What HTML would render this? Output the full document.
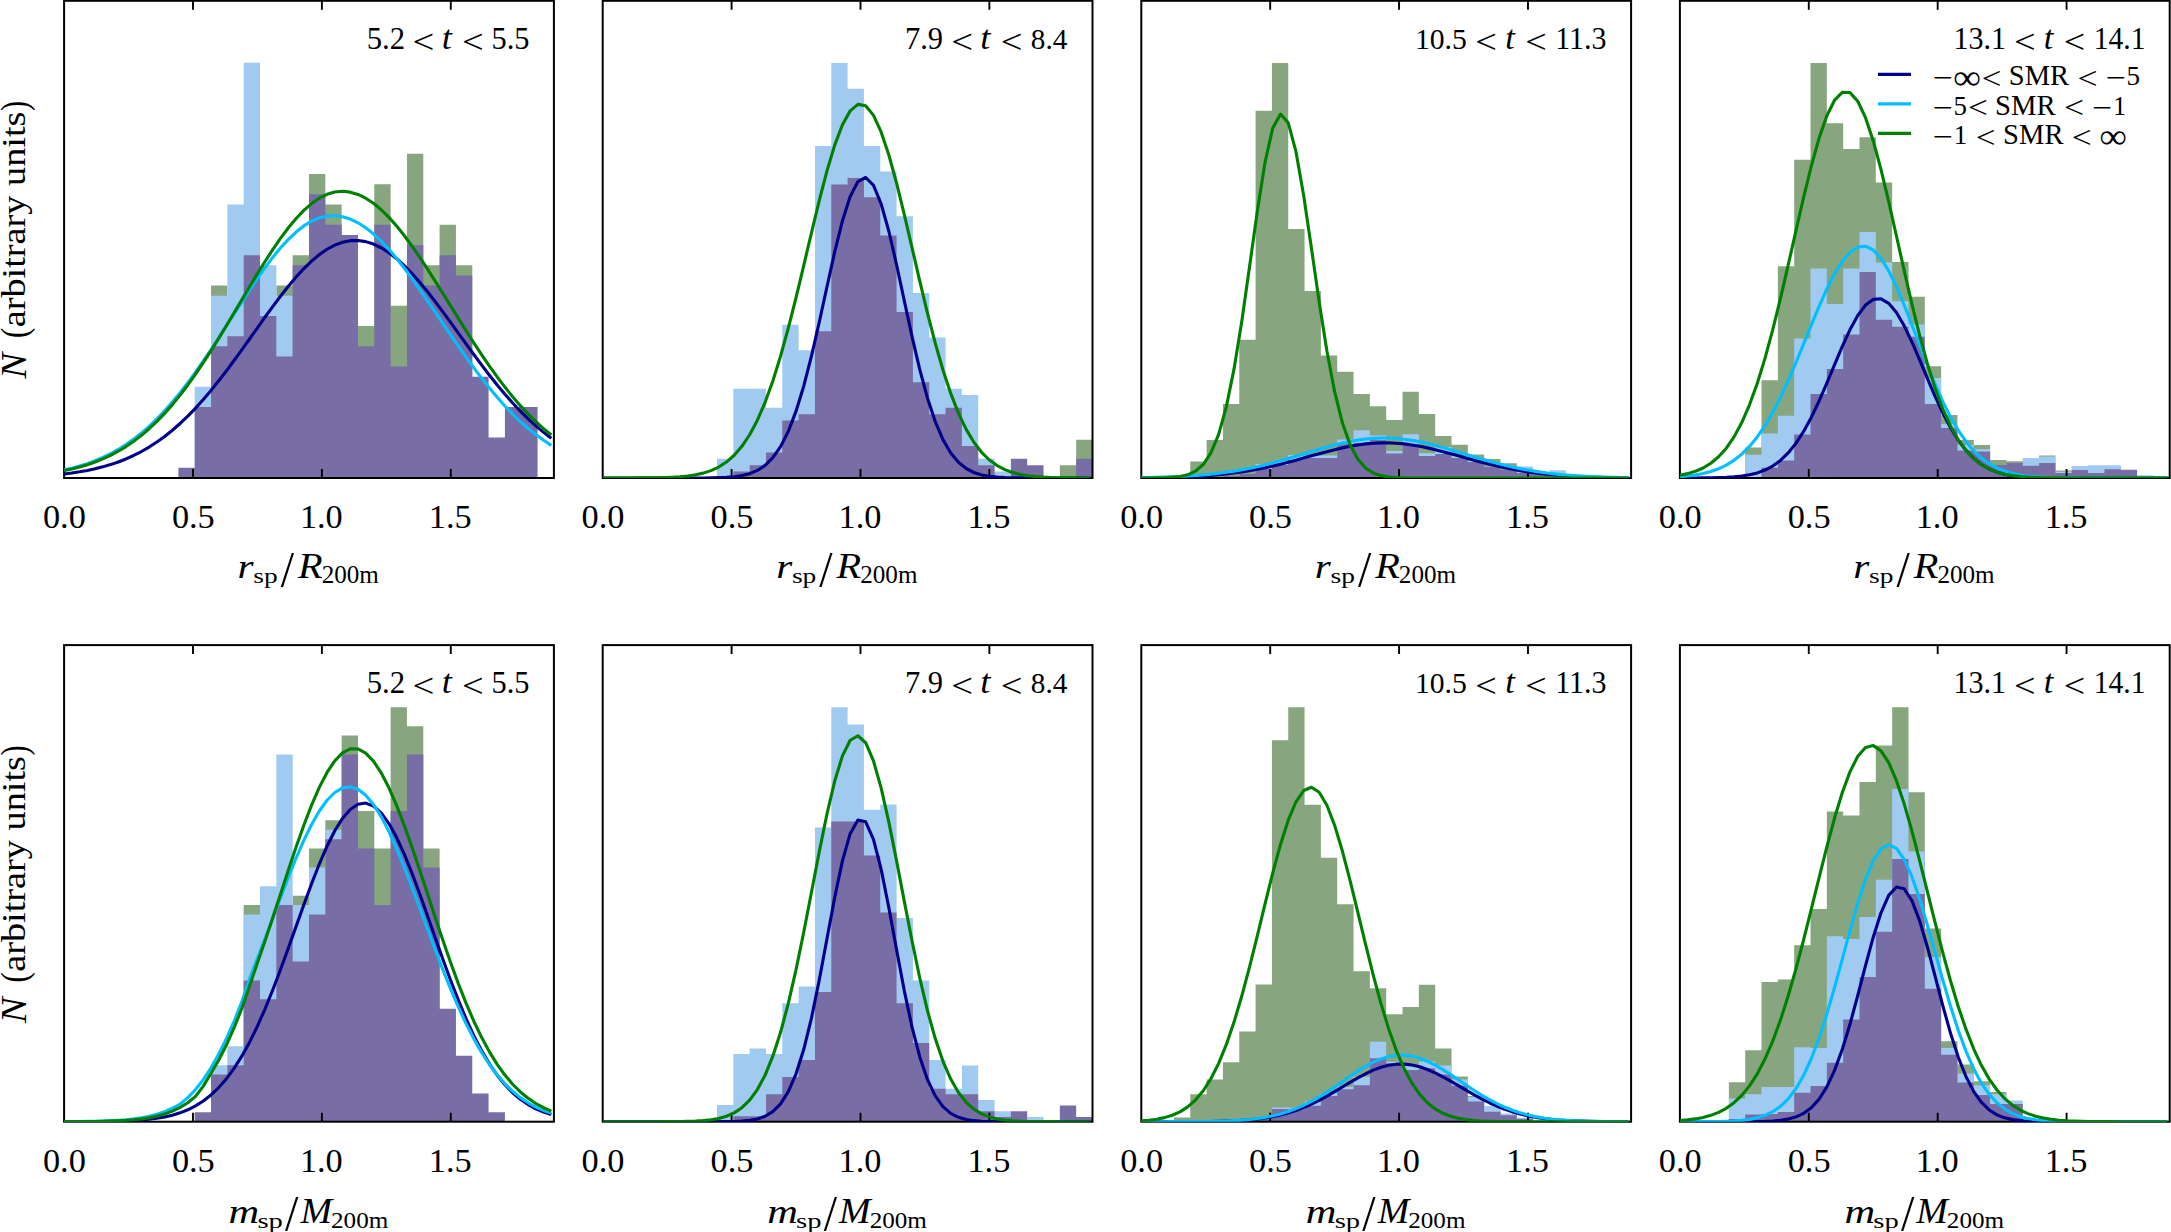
<!DOCTYPE html>
<html><head><meta charset="utf-8"><title>Splashback radius and mass distributions</title>
<style>html,body{margin:0;padding:0;background:#fff;overflow:hidden}svg{display:block}text{font-family:"Liberation Serif","DejaVu Serif",serif;fill:#000}.i{font-style:italic}</style></head><body>
<svg width="2171" height="1232" viewBox="0 0 2171 1232">
<rect width="2171" height="1232" fill="#fff"/>
<defs>
<clipPath id="c00"><rect x="64.10" y="0.80" width="489.80" height="477.20"/></clipPath>
<clipPath id="c01"><rect x="602.70" y="0.80" width="489.80" height="477.20"/></clipPath>
<clipPath id="c02"><rect x="1141.30" y="0.80" width="489.80" height="477.20"/></clipPath>
<clipPath id="c03"><rect x="1679.90" y="0.80" width="489.80" height="477.20"/></clipPath>
<clipPath id="c10"><rect x="64.10" y="645.10" width="489.80" height="476.60"/></clipPath>
<clipPath id="c11"><rect x="602.70" y="645.10" width="489.80" height="476.60"/></clipPath>
<clipPath id="c12"><rect x="1141.30" y="645.10" width="489.80" height="476.60"/></clipPath>
<clipPath id="c13"><rect x="1679.90" y="645.10" width="489.80" height="476.60"/></clipPath>
</defs>
<g clip-path="url(#c00)">
<path d="M64.10,478.00L64.10,478.00L80.43,478.00L80.43,478.00L96.75,478.00L96.75,478.00L113.08,478.00L113.08,478.00L129.41,478.00L129.41,478.00L145.73,478.00L145.73,478.00L162.06,478.00L162.06,478.00L178.39,478.00L178.39,478.00L194.71,478.00L194.71,478.00L211.04,478.00L211.04,285.53L227.37,285.53L227.37,478.00L243.69,478.00L243.69,478.00L260.02,478.00L260.02,478.00L276.35,478.00L276.35,285.53L292.67,285.53L292.67,255.14L309.00,255.14L309.00,174.10L325.33,174.10L325.33,204.49L341.65,204.49L341.65,478.00L357.98,478.00L357.98,326.05L374.31,326.05L374.31,184.23L390.63,184.23L390.63,305.79L406.96,305.79L406.96,153.84L423.29,153.84L423.29,265.27L439.61,265.27L439.61,224.75L455.94,224.75L455.94,265.27L472.27,265.27L472.27,478.00L488.59,478.00L488.59,478.00L504.92,478.00L504.92,478.00L521.25,478.00L521.25,478.00L537.57,478.00L537.57,478.00L553.90,478.00L553.90,478.00Z" fill="#87a67f"/>
<path d="M64.10,478.00L64.10,478.00L80.43,478.00L80.43,478.00L96.75,478.00L96.75,478.00L113.08,478.00L113.08,478.00L129.41,478.00L129.41,478.00L145.73,478.00L145.73,478.00L162.06,478.00L162.06,478.00L178.39,478.00L178.39,478.00L194.71,478.00L194.71,386.83L211.04,386.83L211.04,295.66L227.37,295.66L227.37,204.49L243.69,204.49L243.69,62.67L260.02,62.67L260.02,265.27L276.35,265.27L276.35,295.66L292.67,295.66L292.67,478.00L309.00,478.00L309.00,478.00L325.33,478.00L325.33,478.00L341.65,478.00L341.65,478.00L357.98,478.00L357.98,478.00L374.31,478.00L374.31,478.00L390.63,478.00L390.63,478.00L406.96,478.00L406.96,478.00L423.29,478.00L423.29,478.00L439.61,478.00L439.61,478.00L455.94,478.00L455.94,478.00L472.27,478.00L472.27,478.00L488.59,478.00L488.59,478.00L504.92,478.00L504.92,478.00L521.25,478.00L521.25,478.00L537.57,478.00L537.57,478.00L553.90,478.00L553.90,478.00Z" fill="#a1caf1"/>
<path d="M64.10,478.00L64.10,478.00L80.43,478.00L80.43,478.00L96.75,478.00L96.75,478.00L113.08,478.00L113.08,478.00L129.41,478.00L129.41,478.00L145.73,478.00L145.73,478.00L162.06,478.00L162.06,478.00L178.39,478.00L178.39,467.87L194.71,467.87L194.71,407.09L211.04,407.09L211.04,346.31L227.37,346.31L227.37,336.18L243.69,336.18L243.69,255.14L260.02,255.14L260.02,315.92L276.35,315.92L276.35,356.44L292.67,356.44L292.67,265.27L309.00,265.27L309.00,194.36L325.33,194.36L325.33,224.75L341.65,224.75L341.65,234.88L357.98,234.88L357.98,346.31L374.31,346.31L374.31,224.75L390.63,224.75L390.63,366.57L406.96,366.57L406.96,245.01L423.29,245.01L423.29,285.53L439.61,285.53L439.61,255.14L455.94,255.14L455.94,275.40L472.27,275.40L472.27,376.70L488.59,376.70L488.59,437.48L504.92,437.48L504.92,407.09L521.25,407.09L521.25,407.09L537.57,407.09L537.57,478.00L553.90,478.00L553.90,478.00Z" fill="#786da4"/>
</g>
<path d="M192.99,478.00v-9.0M192.99,0.80v9.0" stroke="#000" stroke-width="1.9"/>
<path d="M321.89,478.00v-9.0M321.89,0.80v9.0" stroke="#000" stroke-width="1.9"/>
<path d="M450.78,478.00v-9.0M450.78,0.80v9.0" stroke="#000" stroke-width="1.9"/>
<rect x="64.10" y="0.80" width="489.80" height="477.20" fill="none" stroke="#000" stroke-width="2.0"/>
<g clip-path="url(#c00)">
<path d="M64.10,473.94L71.83,472.98L79.57,471.82L87.30,470.44L95.03,468.80L102.77,466.87L110.50,464.61L118.24,461.98L125.97,458.95L133.70,455.48L141.44,451.53L149.17,447.06L156.90,442.05L164.64,436.46L172.37,430.28L180.11,423.49L187.84,416.10L195.57,408.10L203.31,399.53L211.04,390.40L218.77,380.78L226.51,370.72L234.24,360.29L241.97,349.60L249.71,338.73L257.44,327.81L265.18,316.96L272.91,306.32L280.64,296.02L288.38,286.21L296.11,277.04L303.84,268.62L311.58,261.11L319.31,254.62L327.05,249.25L334.78,245.09L342.51,242.21L350.25,240.67L357.98,240.49L365.71,241.63L373.45,244.07L381.18,247.77L388.91,252.66L396.65,258.68L404.38,265.71L412.12,273.66L419.85,282.40L427.58,291.81L435.32,301.75L443.05,312.08L450.78,322.67L458.52,333.39L466.25,344.11L473.99,354.73L481.72,365.14L489.45,375.24L497.19,384.95L504.92,394.21L512.65,402.97L520.39,411.19L528.12,418.84L535.85,425.90L543.59,432.37L551.32,438.26" fill="none" stroke="#00008b" stroke-width="3.1" stroke-linejoin="round"/>
<path d="M64.10,469.91L71.83,468.15L79.57,466.06L87.30,463.62L95.03,460.79L102.77,457.51L110.50,453.74L118.24,449.45L125.97,444.60L133.70,439.14L141.44,433.05L149.17,426.31L156.90,418.89L164.64,410.81L172.37,402.05L180.11,392.65L187.84,382.63L195.57,372.06L203.31,360.99L211.04,349.50L218.77,337.70L226.51,325.69L234.24,313.61L241.97,301.59L249.71,289.78L257.44,278.34L265.18,267.41L272.91,257.17L280.64,247.76L288.38,239.33L296.11,232.02L303.84,225.94L311.58,221.19L319.31,217.86L327.05,216.01L334.78,215.65L342.51,216.70L350.25,219.09L357.98,222.80L365.71,227.77L373.45,233.91L381.18,241.14L388.91,249.36L396.65,258.43L404.38,268.25L412.12,278.66L419.85,289.55L427.58,300.77L435.32,312.18L443.05,323.67L450.78,335.11L458.52,346.39L466.25,357.41L473.99,368.08L481.72,378.33L489.45,388.10L497.19,397.33L504.92,405.98L512.65,414.05L520.39,421.50L528.12,428.35L535.85,434.59L543.59,440.25L551.32,445.34" fill="none" stroke="#00bfff" stroke-width="3.1" stroke-linejoin="round"/>
<path d="M64.10,470.60L71.83,468.96L79.57,467.01L87.30,464.72L95.03,462.04L102.77,458.93L110.50,455.34L118.24,451.23L125.97,446.55L133.70,441.26L141.44,435.32L149.17,428.71L156.90,421.40L164.64,413.36L172.37,404.60L180.11,395.13L187.84,384.96L195.57,374.13L203.31,362.70L211.04,350.73L218.77,338.31L226.51,325.55L234.24,312.56L241.97,299.48L249.71,286.46L257.44,273.64L265.18,261.20L272.91,249.30L280.64,238.11L288.38,227.79L296.11,218.51L303.84,210.40L311.58,203.59L319.31,198.20L327.05,194.32L334.78,192.01L342.51,191.30L350.25,192.14L357.98,194.45L365.71,198.19L373.45,203.31L381.18,209.73L388.91,217.35L396.65,226.06L404.38,235.73L412.12,246.24L419.85,257.44L427.58,269.17L435.32,281.31L443.05,293.70L450.78,306.19L458.52,318.67L466.25,331.00L473.99,343.08L481.72,354.81L489.45,366.09L497.19,376.87L504.92,387.08L512.65,396.69L520.39,405.65L528.12,413.96L535.85,421.60L543.59,428.59L551.32,434.94" fill="none" stroke="#008000" stroke-width="3.1" stroke-linejoin="round"/>
</g>
<text x="42.96" y="528.40" font-size="34.3">0.0</text>
<text x="171.90" y="528.40" font-size="34.3">0.5</text>
<text x="299.89" y="528.40" font-size="34.3">1.0</text>
<text x="428.83" y="528.40" font-size="34.3">1.5</text>
<text font-size="100" transform="matrix(0.3068,0,0,0.3055,366.64,49.14)" xml:space="preserve">5.2</text>
<text font-size="100" transform="matrix(0.3871,0,0,0.3440,412.56,52.80)" xml:space="preserve">&lt;</text>
<text class="i" font-size="100" transform="matrix(0.3644,0,0,0.3339,441.76,49.17)" xml:space="preserve">t</text>
<text font-size="100" transform="matrix(0.3849,0,0,0.3440,462.08,52.80)" xml:space="preserve">&lt;</text>
<text font-size="100" transform="matrix(0.3037,0,0,0.3090,491.55,49.14)" xml:space="preserve">5.5</text>
<text class="i" font-size="100" transform="matrix(0.4113,0,0,0.3340,237.55,578.10)" xml:space="preserve">r</text>
<text font-size="100" transform="matrix(0.2741,0,0,0.2051,253.30,583.44)" xml:space="preserve">sp</text>
<text font-size="100" transform="matrix(0.4793,0,0,0.5134,280.70,585.99)" xml:space="preserve">/</text>
<text class="i" font-size="100" transform="matrix(0.4033,0,0,0.3679,298.00,578.20)" xml:space="preserve">R</text>
<text font-size="100" transform="matrix(0.2514,0,0,0.2415,321.63,583.46)" xml:space="preserve">200m</text>
<g clip-path="url(#c01)">
<path d="M602.70,478.00L602.70,478.00L619.03,478.00L619.03,478.00L635.35,478.00L635.35,478.00L651.68,478.00L651.68,478.00L668.01,478.00L668.01,478.00L684.33,478.00L684.33,478.00L700.66,478.00L700.66,478.00L716.99,478.00L716.99,478.00L733.31,478.00L733.31,478.00L749.64,478.00L749.64,478.00L765.97,478.00L765.97,478.00L782.29,478.00L782.29,478.00L798.62,478.00L798.62,478.00L814.95,478.00L814.95,478.00L831.27,478.00L831.27,478.00L847.60,478.00L847.60,478.00L863.93,478.00L863.93,478.00L880.25,478.00L880.25,478.00L896.58,478.00L896.58,478.00L912.91,478.00L912.91,478.00L929.23,478.00L929.23,478.00L945.56,478.00L945.56,478.00L961.89,478.00L961.89,478.00L978.21,478.00L978.21,478.00L994.54,478.00L994.54,478.00L1010.87,478.00L1010.87,478.00L1027.19,478.00L1027.19,478.00L1043.52,478.00L1043.52,478.00L1059.85,478.00L1059.85,465.23L1076.17,465.23L1076.17,439.70L1092.50,439.70L1092.50,478.00Z" fill="#87a67f"/>
<path d="M602.70,478.00L602.70,478.00L619.03,478.00L619.03,478.00L635.35,478.00L635.35,478.00L651.68,478.00L651.68,478.00L668.01,478.00L668.01,478.00L684.33,478.00L684.33,478.00L700.66,478.00L700.66,478.00L716.99,478.00L716.99,458.85L733.31,458.85L733.31,388.64L749.64,388.64L749.64,388.64L765.97,388.64L765.97,407.79L782.29,407.79L782.29,324.81L798.62,324.81L798.62,350.34L814.95,350.34L814.95,146.08L831.27,146.08L831.27,63.11L847.60,63.11L847.60,88.64L863.93,88.64L863.93,146.08L880.25,146.08L880.25,171.62L896.58,171.62L896.58,216.30L912.91,216.30L912.91,292.89L929.23,292.89L929.23,337.57L945.56,337.57L945.56,388.64L961.89,388.64L961.89,395.02L978.21,395.02L978.21,458.85L994.54,458.85L994.54,471.62L1010.87,471.62L1010.87,478.00L1027.19,478.00L1027.19,478.00L1043.52,478.00L1043.52,478.00L1059.85,478.00L1059.85,478.00L1076.17,478.00L1076.17,478.00L1092.50,478.00L1092.50,478.00Z" fill="#a1caf1"/>
<path d="M602.70,478.00L602.70,478.00L619.03,478.00L619.03,478.00L635.35,478.00L635.35,478.00L651.68,478.00L651.68,478.00L668.01,478.00L668.01,478.00L684.33,478.00L684.33,478.00L700.66,478.00L700.66,478.00L716.99,478.00L716.99,478.00L733.31,478.00L733.31,471.62L749.64,471.62L749.64,465.23L765.97,465.23L765.97,452.47L782.29,452.47L782.29,420.55L798.62,420.55L798.62,414.17L814.95,414.17L814.95,331.19L831.27,331.19L831.27,184.38L847.60,184.38L847.60,178.00L863.93,178.00L863.93,197.15L880.25,197.15L880.25,235.45L896.58,235.45L896.58,312.04L912.91,312.04L912.91,382.25L929.23,382.25L929.23,414.17L945.56,414.17L945.56,407.79L961.89,407.79L961.89,446.08L978.21,446.08L978.21,465.23L994.54,465.23L994.54,478.00L1010.87,478.00L1010.87,458.85L1027.19,458.85L1027.19,465.23L1043.52,465.23L1043.52,478.00L1059.85,478.00L1059.85,478.00L1076.17,478.00L1076.17,458.85L1092.50,458.85L1092.50,478.00Z" fill="#786da4"/>
</g>
<path d="M731.59,478.00v-9.0M731.59,0.80v9.0" stroke="#000" stroke-width="1.9"/>
<path d="M860.49,478.00v-9.0M860.49,0.80v9.0" stroke="#000" stroke-width="1.9"/>
<path d="M989.38,478.00v-9.0M989.38,0.80v9.0" stroke="#000" stroke-width="1.9"/>
<rect x="602.70" y="0.80" width="489.80" height="477.20" fill="none" stroke="#000" stroke-width="2.0"/>
<g clip-path="url(#c01)">
<path d="M602.70,478.00L610.43,478.00L618.17,478.00L625.90,478.00L633.63,478.00L641.37,478.00L649.10,478.00L656.84,478.00L664.57,478.00L672.30,478.00L680.04,477.99L687.77,477.99L695.50,477.97L703.24,477.93L710.97,477.84L718.71,477.67L726.44,477.33L734.17,476.71L741.91,475.58L749.64,473.63L757.37,470.43L765.11,465.36L772.84,457.70L780.57,446.62L788.31,431.33L796.04,411.18L803.78,385.94L811.51,355.94L819.24,322.25L826.98,286.73L834.71,251.96L842.44,220.90L850.18,196.59L857.91,181.56L865.65,177.48L873.38,185.12L881.11,203.75L888.85,231.27L896.58,264.73L904.31,300.88L912.05,336.67L919.78,369.65L927.51,398.19L935.25,421.52L942.98,439.60L950.72,452.91L958.45,462.25L966.18,468.50L973.92,472.50L981.65,474.94L989.38,476.36L997.12,477.16L1004.85,477.58L1012.59,477.80L1020.32,477.91L1028.05,477.96L1035.79,477.98L1043.52,477.99L1051.25,478.00L1058.99,478.00L1066.72,478.00L1074.45,478.00L1082.19,478.00L1089.92,478.00" fill="none" stroke="#00008b" stroke-width="3.1" stroke-linejoin="round"/>
<path d="M602.70,478.00L610.43,477.99L618.17,477.99L625.90,477.98L633.63,477.96L641.37,477.92L649.10,477.85L656.84,477.74L664.57,477.56L672.30,477.25L680.04,476.77L687.77,476.01L695.50,474.86L703.24,473.13L710.97,470.62L718.71,467.04L726.44,462.06L734.17,455.29L741.91,446.33L749.64,434.76L757.37,420.18L765.11,402.29L772.84,380.93L780.57,356.13L788.31,328.17L796.04,297.62L803.78,265.36L811.51,232.54L819.24,200.55L826.98,170.90L834.71,145.15L842.44,124.74L850.18,110.87L857.91,104.39L865.65,105.77L873.38,115.13L881.11,131.90L888.85,155.03L896.58,183.12L904.31,214.59L912.05,247.78L919.78,281.13L927.51,313.29L935.25,343.18L942.98,370.02L950.72,393.39L958.45,413.13L966.18,429.34L973.92,442.29L981.65,452.36L989.38,459.99L997.12,465.62L1004.85,469.67L1012.59,472.52L1020.32,474.47L1028.05,475.78L1035.79,476.63L1043.52,477.17L1051.25,477.51L1058.99,477.72L1066.72,477.84L1074.45,477.91L1082.19,477.95L1089.92,477.97" fill="none" stroke="#008000" stroke-width="3.1" stroke-linejoin="round"/>
</g>
<text x="581.56" y="528.40" font-size="34.3">0.0</text>
<text x="710.50" y="528.40" font-size="34.3">0.5</text>
<text x="838.49" y="528.40" font-size="34.3">1.0</text>
<text x="967.43" y="528.40" font-size="34.3">1.5</text>
<text font-size="100" transform="matrix(0.3048,0,0,0.3055,905.02,49.14)" xml:space="preserve">7.9</text>
<text font-size="100" transform="matrix(0.3871,0,0,0.3440,951.16,52.80)" xml:space="preserve">&lt;</text>
<text class="i" font-size="100" transform="matrix(0.3644,0,0,0.3339,980.36,49.17)" xml:space="preserve">t</text>
<text font-size="100" transform="matrix(0.3849,0,0,0.3440,1000.68,52.80)" xml:space="preserve">&lt;</text>
<text font-size="100" transform="matrix(0.2923,0,0,0.3044,1030.80,49.14)" xml:space="preserve">8.4</text>
<text class="i" font-size="100" transform="matrix(0.4113,0,0,0.3340,776.15,578.10)" xml:space="preserve">r</text>
<text font-size="100" transform="matrix(0.2741,0,0,0.2051,791.90,583.44)" xml:space="preserve">sp</text>
<text font-size="100" transform="matrix(0.4793,0,0,0.5134,819.30,585.99)" xml:space="preserve">/</text>
<text class="i" font-size="100" transform="matrix(0.4033,0,0,0.3679,836.60,578.20)" xml:space="preserve">R</text>
<text font-size="100" transform="matrix(0.2514,0,0,0.2415,860.23,583.46)" xml:space="preserve">200m</text>
<g clip-path="url(#c02)">
<path d="M1141.30,478.00L1141.30,478.00L1157.63,478.00L1157.63,478.00L1173.95,478.00L1173.95,478.00L1190.28,478.00L1190.28,461.40L1206.61,461.40L1206.61,440.00L1222.93,440.00L1222.93,404.00L1239.26,404.00L1239.26,339.70L1255.59,339.70L1255.59,110.80L1271.91,110.80L1271.91,63.10L1288.24,63.10L1288.24,229.00L1304.57,229.00L1304.57,290.90L1320.89,290.90L1320.89,355.50L1337.22,355.50L1337.22,371.70L1353.55,371.70L1353.55,394.10L1369.87,394.10L1369.87,406.30L1386.20,406.30L1386.20,420.10L1402.53,420.10L1402.53,391.70L1418.85,391.70L1418.85,413.90L1435.18,413.90L1435.18,435.90L1451.51,435.90L1451.51,444.70L1467.83,444.70L1467.83,454.50L1484.16,454.50L1484.16,459.00L1500.49,459.00L1500.49,463.30L1516.81,463.30L1516.81,469.00L1533.14,469.00L1533.14,473.00L1549.47,473.00L1549.47,475.00L1565.79,475.00L1565.79,478.00L1582.12,478.00L1582.12,478.00L1598.45,478.00L1598.45,478.00L1614.77,478.00L1614.77,478.00L1631.10,478.00L1631.10,478.00Z" fill="#87a67f"/>
<path d="M1141.30,478.00L1141.30,478.00L1157.63,478.00L1157.63,478.00L1173.95,478.00L1173.95,478.00L1190.28,478.00L1190.28,478.00L1206.61,478.00L1206.61,478.00L1222.93,478.00L1222.93,477.00L1239.26,477.00L1239.26,474.00L1255.59,474.00L1255.59,464.10L1271.91,464.10L1271.91,461.00L1288.24,461.00L1288.24,455.10L1304.57,455.10L1304.57,456.00L1320.89,456.00L1320.89,455.40L1337.22,455.40L1337.22,439.60L1353.55,439.60L1353.55,430.30L1369.87,430.30L1369.87,435.60L1386.20,435.60L1386.20,451.10L1402.53,451.10L1402.53,434.20L1418.85,434.20L1418.85,453.20L1435.18,453.20L1435.18,447.20L1451.51,447.20L1451.51,456.00L1467.83,456.00L1467.83,461.00L1484.16,461.00L1484.16,466.00L1500.49,466.00L1500.49,469.00L1516.81,469.00L1516.81,466.40L1533.14,466.40L1533.14,473.00L1549.47,473.00L1549.47,470.30L1565.79,470.30L1565.79,475.00L1582.12,475.00L1582.12,478.00L1598.45,478.00L1598.45,478.00L1614.77,478.00L1614.77,478.00L1631.10,478.00L1631.10,478.00Z" fill="#a1caf1"/>
<path d="M1141.30,478.00L1141.30,478.00L1157.63,478.00L1157.63,478.00L1173.95,478.00L1173.95,478.00L1190.28,478.00L1190.28,478.00L1206.61,478.00L1206.61,477.00L1222.93,477.00L1222.93,476.00L1239.26,476.00L1239.26,474.00L1255.59,474.00L1255.59,469.00L1271.91,469.00L1271.91,465.00L1288.24,465.00L1288.24,460.00L1304.57,460.00L1304.57,458.00L1320.89,458.00L1320.89,457.90L1337.22,457.90L1337.22,444.00L1353.55,444.00L1353.55,443.00L1369.87,443.00L1369.87,440.00L1386.20,440.00L1386.20,453.60L1402.53,453.60L1402.53,444.00L1418.85,444.00L1418.85,455.90L1435.18,455.90L1435.18,454.00L1451.51,454.00L1451.51,458.00L1467.83,458.00L1467.83,462.00L1484.16,462.00L1484.16,466.50L1500.49,466.50L1500.49,469.50L1516.81,469.50L1516.81,473.00L1533.14,473.00L1533.14,474.00L1549.47,474.00L1549.47,476.00L1565.79,476.00L1565.79,478.00L1582.12,478.00L1582.12,478.00L1598.45,478.00L1598.45,478.00L1614.77,478.00L1614.77,478.00L1631.10,478.00L1631.10,478.00Z" fill="#786da4"/>
</g>
<path d="M1270.19,478.00v-9.0M1270.19,0.80v9.0" stroke="#000" stroke-width="1.9"/>
<path d="M1399.09,478.00v-9.0M1399.09,0.80v9.0" stroke="#000" stroke-width="1.9"/>
<path d="M1527.98,478.00v-9.0M1527.98,0.80v9.0" stroke="#000" stroke-width="1.9"/>
<rect x="1141.30" y="0.80" width="489.80" height="477.20" fill="none" stroke="#000" stroke-width="2.0"/>
<g clip-path="url(#c02)">
<path d="M1141.30,477.78L1149.03,477.70L1156.77,477.60L1164.50,477.46L1172.23,477.28L1179.97,477.04L1187.70,476.75L1195.44,476.39L1203.17,475.94L1210.90,475.39L1218.64,474.72L1226.37,473.93L1234.10,473.01L1241.84,471.93L1249.57,470.70L1257.31,469.30L1265.04,467.75L1272.77,466.04L1280.51,464.20L1288.24,462.22L1295.97,460.15L1303.71,458.02L1311.44,455.86L1319.17,453.71L1326.91,451.63L1334.64,449.67L1342.38,447.87L1350.11,446.28L1357.84,444.95L1365.58,443.91L1373.31,443.20L1381.04,442.85L1388.78,442.85L1396.51,443.20L1404.25,443.91L1411.98,444.95L1419.71,446.28L1427.45,447.87L1435.18,449.67L1442.91,451.63L1450.65,453.71L1458.38,455.86L1466.11,458.02L1473.85,460.15L1481.58,462.22L1489.32,464.20L1497.05,466.04L1504.78,467.75L1512.52,469.30L1520.25,470.70L1527.98,471.93L1535.72,473.01L1543.45,473.93L1551.19,474.72L1558.92,475.39L1566.65,475.94L1574.39,476.39L1582.12,476.75L1589.85,477.04L1597.59,477.28L1605.32,477.46L1613.05,477.60L1620.79,477.70L1628.52,477.78" fill="none" stroke="#00008b" stroke-width="3.1" stroke-linejoin="round"/>
<path d="M1141.30,477.60L1149.03,477.47L1156.77,477.30L1164.50,477.08L1172.23,476.81L1179.97,476.47L1187.70,476.05L1195.44,475.54L1203.17,474.92L1210.90,474.18L1218.64,473.31L1226.37,472.30L1234.10,471.13L1241.84,469.80L1249.57,468.31L1257.31,466.65L1265.04,464.82L1272.77,462.85L1280.51,460.75L1288.24,458.53L1295.97,456.23L1303.71,453.90L1311.44,451.55L1319.17,449.25L1326.91,447.05L1334.64,444.98L1342.38,443.11L1350.11,441.47L1357.84,440.11L1365.58,439.06L1373.31,438.37L1381.04,438.03L1388.78,438.07L1396.51,438.48L1404.25,439.25L1411.98,440.36L1419.71,441.77L1427.45,443.46L1435.18,445.38L1442.91,447.48L1450.65,449.71L1458.38,452.02L1466.11,454.36L1473.85,456.70L1481.58,458.98L1489.32,461.18L1497.05,463.26L1504.78,465.20L1512.52,466.99L1520.25,468.62L1527.98,470.08L1535.72,471.38L1543.45,472.52L1551.19,473.50L1558.92,474.34L1566.65,475.05L1574.39,475.65L1582.12,476.14L1589.85,476.54L1597.59,476.87L1605.32,477.13L1613.05,477.34L1620.79,477.50L1628.52,477.63" fill="none" stroke="#00bfff" stroke-width="3.1" stroke-linejoin="round"/>
<path d="M1141.30,477.99L1149.03,477.97L1156.77,477.92L1164.50,477.77L1172.23,477.41L1179.97,476.58L1187.70,474.79L1195.44,471.21L1203.17,464.53L1210.90,452.95L1218.64,434.33L1226.37,406.62L1234.10,368.65L1241.84,320.95L1249.57,266.57L1257.31,211.18L1265.04,162.35L1272.77,127.96L1280.51,114.12L1288.24,122.81L1295.97,151.64L1303.71,195.72L1311.44,248.18L1319.17,301.87L1326.91,350.93L1334.64,391.71L1342.38,422.84L1350.11,444.81L1357.84,459.20L1365.58,467.98L1373.31,472.97L1381.04,475.62L1388.78,476.94L1396.51,477.56L1404.25,477.83L1411.98,477.94L1419.71,477.98L1427.45,477.99L1435.18,478.00L1442.91,478.00L1450.65,478.00L1458.38,478.00L1466.11,478.00L1473.85,478.00L1481.58,478.00L1489.32,478.00L1497.05,478.00L1504.78,478.00L1512.52,478.00L1520.25,478.00L1527.98,478.00L1535.72,478.00L1543.45,478.00L1551.19,478.00L1558.92,478.00L1566.65,478.00L1574.39,478.00L1582.12,478.00L1589.85,478.00L1597.59,478.00L1605.32,478.00L1613.05,478.00L1620.79,478.00L1628.52,478.00" fill="none" stroke="#008000" stroke-width="3.1" stroke-linejoin="round"/>
</g>
<text x="1120.16" y="528.40" font-size="34.3">0.0</text>
<text x="1249.10" y="528.40" font-size="34.3">0.5</text>
<text x="1377.09" y="528.40" font-size="34.3">1.0</text>
<text x="1506.03" y="528.40" font-size="34.3">1.5</text>
<text font-size="100" transform="matrix(0.2971,0,0,0.3044,1414.90,49.14)" xml:space="preserve">10.5</text>
<text font-size="100" transform="matrix(0.3828,0,0,0.3440,1475.29,52.80)" xml:space="preserve">&lt;</text>
<text class="i" font-size="100" transform="matrix(0.3446,0,0,0.3339,1505.25,49.17)" xml:space="preserve">t</text>
<text font-size="100" transform="matrix(0.3806,0,0,0.3440,1525.20,52.80)" xml:space="preserve">&lt;</text>
<text font-size="100" transform="matrix(0.2991,0,0,0.3055,1555.18,49.14)" xml:space="preserve">11.3</text>
<text class="i" font-size="100" transform="matrix(0.4113,0,0,0.3340,1314.75,578.10)" xml:space="preserve">r</text>
<text font-size="100" transform="matrix(0.2741,0,0,0.2051,1330.50,583.44)" xml:space="preserve">sp</text>
<text font-size="100" transform="matrix(0.4793,0,0,0.5134,1357.90,585.99)" xml:space="preserve">/</text>
<text class="i" font-size="100" transform="matrix(0.4033,0,0,0.3679,1375.20,578.20)" xml:space="preserve">R</text>
<text font-size="100" transform="matrix(0.2514,0,0,0.2415,1398.83,583.46)" xml:space="preserve">200m</text>
<g clip-path="url(#c03)">
<path d="M1679.90,478.00L1679.90,478.00L1696.23,478.00L1696.23,478.00L1712.55,478.00L1712.55,478.00L1728.88,478.00L1728.88,478.00L1745.21,478.00L1745.21,447.40L1761.53,447.40L1761.53,380.30L1777.86,380.30L1777.86,266.30L1794.19,266.30L1794.19,159.80L1810.51,159.80L1810.51,63.10L1826.84,63.10L1826.84,123.30L1843.17,123.30L1843.17,149.00L1859.49,149.00L1859.49,137.20L1875.82,137.20L1875.82,182.40L1892.15,182.40L1892.15,262.00L1908.47,262.00L1908.47,296.80L1924.80,296.80L1924.80,366.30L1941.13,366.30L1941.13,415.10L1957.45,415.10L1957.45,440.10L1973.78,440.10L1973.78,445.00L1990.11,445.00L1990.11,460.00L2006.43,460.00L2006.43,461.20L2022.76,461.20L2022.76,459.00L2039.09,459.00L2039.09,455.40L2055.41,455.40L2055.41,470.60L2071.74,470.60L2071.74,466.50L2088.07,466.50L2088.07,466.00L2104.39,466.00L2104.39,466.00L2120.72,466.00L2120.72,478.00L2137.05,478.00L2137.05,478.00L2153.37,478.00L2153.37,476.20L2169.70,476.20L2169.70,478.00Z" fill="#87a67f"/>
<path d="M1679.90,478.00L1679.90,478.00L1696.23,478.00L1696.23,478.00L1712.55,478.00L1712.55,478.00L1728.88,478.00L1728.88,478.00L1745.21,478.00L1745.21,454.80L1761.53,454.80L1761.53,433.40L1777.86,433.40L1777.86,415.80L1794.19,415.80L1794.19,338.60L1810.51,338.60L1810.51,268.60L1826.84,268.60L1826.84,304.00L1843.17,304.00L1843.17,268.60L1859.49,268.60L1859.49,232.10L1875.82,232.10L1875.82,262.50L1892.15,262.50L1892.15,301.30L1908.47,301.30L1908.47,324.60L1924.80,324.60L1924.80,378.10L1941.13,378.10L1941.13,423.90L1957.45,423.90L1957.45,445.00L1973.78,445.00L1973.78,449.20L1990.11,449.20L1990.11,466.00L2006.43,466.00L2006.43,464.00L2022.76,464.00L2022.76,458.00L2039.09,458.00L2039.09,456.60L2055.41,456.60L2055.41,471.70L2071.74,471.70L2071.74,466.20L2088.07,466.20L2088.07,465.30L2104.39,465.30L2104.39,465.30L2120.72,465.30L2120.72,471.00L2137.05,471.00L2137.05,475.20L2153.37,475.20L2153.37,478.00L2169.70,478.00L2169.70,478.00Z" fill="#a1caf1"/>
<path d="M1679.90,478.00L1679.90,478.00L1696.23,478.00L1696.23,478.00L1712.55,478.00L1712.55,478.00L1728.88,478.00L1728.88,478.00L1745.21,478.00L1745.21,478.00L1761.53,478.00L1761.53,467.70L1777.86,467.70L1777.86,460.50L1794.19,460.50L1794.19,434.50L1810.51,434.50L1810.51,393.90L1826.84,393.90L1826.84,369.00L1843.17,369.00L1843.17,334.50L1859.49,334.50L1859.49,272.00L1875.82,272.00L1875.82,319.80L1892.15,319.80L1892.15,326.80L1908.47,326.80L1908.47,336.80L1924.80,336.80L1924.80,404.00L1941.13,404.00L1941.13,427.90L1957.45,427.90L1957.45,450.60L1973.78,450.60L1973.78,451.50L1990.11,451.50L1990.11,464.90L2006.43,464.90L2006.43,463.00L2022.76,463.00L2022.76,465.70L2039.09,465.70L2039.09,463.10L2055.41,463.10L2055.41,473.00L2071.74,473.00L2071.74,469.90L2088.07,469.90L2088.07,473.00L2104.39,473.00L2104.39,469.25L2120.72,469.25L2120.72,469.70L2137.05,469.70L2137.05,478.00L2153.37,478.00L2153.37,478.00L2169.70,478.00L2169.70,478.00Z" fill="#786da4"/>
</g>
<path d="M1808.79,478.00v-9.0M1808.79,0.80v9.0" stroke="#000" stroke-width="1.9"/>
<path d="M1937.69,478.00v-9.0M1937.69,0.80v9.0" stroke="#000" stroke-width="1.9"/>
<path d="M2066.58,478.00v-9.0M2066.58,0.80v9.0" stroke="#000" stroke-width="1.9"/>
<rect x="1679.90" y="0.80" width="489.80" height="477.20" fill="none" stroke="#000" stroke-width="2.0"/>
<g clip-path="url(#c03)">
<path d="M1679.90,477.99L1687.63,477.97L1695.37,477.95L1703.10,477.90L1710.83,477.80L1718.57,477.64L1726.30,477.35L1734.04,476.86L1741.77,476.07L1749.50,474.82L1757.24,472.90L1764.97,470.07L1772.70,466.02L1780.44,460.43L1788.17,452.97L1795.91,443.36L1803.64,431.45L1811.37,417.25L1819.11,400.99L1826.84,383.20L1834.57,364.66L1842.31,346.40L1850.04,329.59L1857.77,315.46L1865.51,305.10L1873.24,299.38L1880.98,298.79L1888.71,303.32L1896.44,312.59L1904.18,325.82L1911.91,341.98L1919.64,359.89L1927.38,378.36L1935.11,396.34L1942.85,412.98L1950.58,427.70L1958.31,440.20L1966.05,450.40L1973.78,458.42L1981.51,464.51L1989.25,468.97L1996.98,472.12L2004.71,474.29L2012.45,475.72L2020.18,476.64L2027.92,477.21L2035.65,477.56L2043.38,477.76L2051.12,477.87L2058.85,477.93L2066.58,477.97L2074.32,477.98L2082.05,477.99L2089.79,478.00L2097.52,478.00L2105.25,478.00L2112.99,478.00L2120.72,478.00L2128.45,478.00L2136.19,478.00L2143.92,478.00L2151.65,478.00L2159.39,478.00L2167.12,478.00" fill="none" stroke="#00008b" stroke-width="3.1" stroke-linejoin="round"/>
<path d="M1679.90,476.70L1687.63,476.00L1695.37,474.99L1703.10,473.55L1710.83,471.54L1718.57,468.79L1726.30,465.12L1734.04,460.31L1741.77,454.15L1749.50,446.43L1757.24,436.98L1764.97,425.67L1772.70,412.46L1780.44,397.42L1788.17,380.73L1795.91,362.74L1803.64,343.90L1811.37,324.84L1819.11,306.26L1826.84,288.94L1834.57,273.68L1842.31,261.22L1850.04,252.19L1857.77,247.09L1865.51,246.20L1873.24,250.00L1880.98,258.40L1888.71,270.88L1896.44,286.72L1904.18,305.01L1911.91,324.81L1919.64,345.16L1927.38,365.20L1935.11,384.21L1942.85,401.64L1950.58,417.12L1958.31,430.47L1966.05,441.67L1973.78,450.80L1981.51,458.06L1989.25,463.69L1996.98,467.94L2004.71,471.08L2012.45,473.33L2020.18,474.92L2027.92,476.01L2035.65,476.74L2043.38,477.22L2051.12,477.53L2058.85,477.72L2066.58,477.84L2074.32,477.91L2082.05,477.95L2089.79,477.97L2097.52,477.98L2105.25,477.99L2112.99,478.00L2120.72,478.00L2128.45,478.00L2136.19,478.00L2143.92,478.00L2151.65,478.00L2159.39,478.00L2167.12,478.00" fill="none" stroke="#00bfff" stroke-width="3.1" stroke-linejoin="round"/>
<path d="M1679.90,475.22L1687.63,473.64L1695.37,471.32L1703.10,467.97L1710.83,463.26L1718.57,456.80L1726.30,448.16L1734.04,436.88L1741.77,422.55L1749.50,404.80L1757.24,383.42L1764.97,358.38L1772.70,329.92L1780.44,298.57L1788.17,265.19L1795.91,230.95L1803.64,197.27L1811.37,165.77L1819.11,138.08L1826.84,115.78L1834.57,100.20L1842.31,92.30L1850.04,92.60L1857.77,101.25L1865.51,117.69L1873.24,140.90L1880.98,169.46L1888.71,201.73L1896.44,235.99L1904.18,270.61L1911.91,304.13L1919.64,335.40L1927.38,363.59L1935.11,388.19L1942.85,409.04L1950.58,426.19L1958.31,439.93L1966.05,450.63L1973.78,458.75L1981.51,464.75L1989.25,469.08L1996.98,472.13L2004.71,474.22L2012.45,475.62L2020.18,476.53L2027.92,477.11L2035.65,477.48L2043.38,477.70L2051.12,477.83L2058.85,477.91L2066.58,477.95L2074.32,477.97L2082.05,477.99L2089.79,477.99L2097.52,478.00L2105.25,478.00L2112.99,478.00L2120.72,478.00L2128.45,478.00L2136.19,478.00L2143.92,478.00L2151.65,478.00L2159.39,478.00L2167.12,478.00" fill="none" stroke="#008000" stroke-width="3.1" stroke-linejoin="round"/>
</g>
<text x="1658.76" y="528.40" font-size="34.3">0.0</text>
<text x="1787.70" y="528.40" font-size="34.3">0.5</text>
<text x="1915.69" y="528.40" font-size="34.3">1.0</text>
<text x="2044.63" y="528.40" font-size="34.3">1.5</text>
<text font-size="100" transform="matrix(0.3008,0,0,0.3055,1953.47,49.14)" xml:space="preserve">13.1</text>
<text font-size="100" transform="matrix(0.3828,0,0,0.3440,2013.89,52.80)" xml:space="preserve">&lt;</text>
<text class="i" font-size="100" transform="matrix(0.3446,0,0,0.3339,2043.85,49.17)" xml:space="preserve">t</text>
<text font-size="100" transform="matrix(0.3806,0,0,0.3440,2063.80,52.80)" xml:space="preserve">&lt;</text>
<text font-size="100" transform="matrix(0.2958,0,0,0.3067,2093.81,49.14)" xml:space="preserve">14.1</text>
<text class="i" font-size="100" transform="matrix(0.4113,0,0,0.3340,1853.35,578.10)" xml:space="preserve">r</text>
<text font-size="100" transform="matrix(0.2741,0,0,0.2051,1869.10,583.44)" xml:space="preserve">sp</text>
<text font-size="100" transform="matrix(0.4793,0,0,0.5134,1896.50,585.99)" xml:space="preserve">/</text>
<text class="i" font-size="100" transform="matrix(0.4033,0,0,0.3679,1913.80,578.20)" xml:space="preserve">R</text>
<text font-size="100" transform="matrix(0.2514,0,0,0.2415,1937.43,583.46)" xml:space="preserve">200m</text>
<g clip-path="url(#c10)">
<path d="M64.10,1121.70L64.10,1121.70L80.43,1121.70L80.43,1121.70L96.75,1121.70L96.75,1121.70L113.08,1121.70L113.08,1121.70L129.41,1121.70L129.41,1121.70L145.73,1121.70L145.73,1121.70L162.06,1121.70L162.06,1121.70L178.39,1121.70L178.39,1121.70L194.71,1121.70L194.71,1121.70L211.04,1121.70L211.04,1121.70L227.37,1121.70L227.37,1121.70L243.69,1121.70L243.69,905.09L260.02,905.09L260.02,1121.70L276.35,1121.70L276.35,1121.70L292.67,1121.70L292.67,895.67L309.00,895.67L309.00,848.58L325.33,848.58L325.33,820.32L341.65,820.32L341.65,735.56L357.98,735.56L357.98,810.91L374.31,810.91L374.31,848.58L390.63,848.58L390.63,707.31L406.96,707.31L406.96,726.14L423.29,726.14L423.29,848.58L439.61,848.58L439.61,1121.70L455.94,1121.70L455.94,1121.70L472.27,1121.70L472.27,1121.70L488.59,1121.70L488.59,1121.70L504.92,1121.70L504.92,1121.70L521.25,1121.70L521.25,1121.70L537.57,1121.70L537.57,1121.70L553.90,1121.70L553.90,1121.70Z" fill="#87a67f"/>
<path d="M64.10,1121.70L64.10,1121.70L80.43,1121.70L80.43,1121.70L96.75,1121.70L96.75,1121.70L113.08,1121.70L113.08,1121.70L129.41,1121.70L129.41,1121.70L145.73,1121.70L145.73,1121.70L162.06,1121.70L162.06,1121.70L178.39,1121.70L178.39,1121.70L194.71,1121.70L194.71,1121.70L211.04,1121.70L211.04,1065.19L227.37,1065.19L227.37,1046.36L243.69,1046.36L243.69,914.50L260.02,914.50L260.02,886.25L276.35,886.25L276.35,754.40L292.67,754.40L292.67,905.09L309.00,905.09L309.00,867.41L325.33,867.41L325.33,829.74L341.65,829.74L341.65,1121.70L357.98,1121.70L357.98,1121.70L374.31,1121.70L374.31,1121.70L390.63,1121.70L390.63,1121.70L406.96,1121.70L406.96,1121.70L423.29,1121.70L423.29,1121.70L439.61,1121.70L439.61,1121.70L455.94,1121.70L455.94,1121.70L472.27,1121.70L472.27,1121.70L488.59,1121.70L488.59,1121.70L504.92,1121.70L504.92,1121.70L521.25,1121.70L521.25,1121.70L537.57,1121.70L537.57,1121.70L553.90,1121.70L553.90,1121.70Z" fill="#a1caf1"/>
<path d="M64.10,1121.70L64.10,1121.70L80.43,1121.70L80.43,1121.70L96.75,1121.70L96.75,1121.70L113.08,1121.70L113.08,1121.70L129.41,1121.70L129.41,1121.70L145.73,1121.70L145.73,1121.70L162.06,1121.70L162.06,1121.70L178.39,1121.70L178.39,1121.70L194.71,1121.70L194.71,1112.28L211.04,1112.28L211.04,1074.61L227.37,1074.61L227.37,1065.19L243.69,1065.19L243.69,980.43L260.02,980.43L260.02,999.27L276.35,999.27L276.35,905.09L292.67,905.09L292.67,961.59L309.00,961.59L309.00,914.50L325.33,914.50L325.33,839.16L341.65,839.16L341.65,754.40L357.98,754.40L357.98,848.58L374.31,848.58L374.31,905.09L390.63,905.09L390.63,810.91L406.96,810.91L406.96,754.40L423.29,754.40L423.29,867.41L439.61,867.41L439.61,1008.68L455.94,1008.68L455.94,1055.77L472.27,1055.77L472.27,1093.45L488.59,1093.45L488.59,1112.28L504.92,1112.28L504.92,1121.70L521.25,1121.70L521.25,1121.70L537.57,1121.70L537.57,1121.70L553.90,1121.70L553.90,1121.70Z" fill="#786da4"/>
</g>
<path d="M192.99,1121.70v-9.0M192.99,645.10v9.0" stroke="#000" stroke-width="1.9"/>
<path d="M321.89,1121.70v-9.0M321.89,645.10v9.0" stroke="#000" stroke-width="1.9"/>
<path d="M450.78,1121.70v-9.0M450.78,645.10v9.0" stroke="#000" stroke-width="1.9"/>
<rect x="64.10" y="645.10" width="489.80" height="476.60" fill="none" stroke="#000" stroke-width="2.0"/>
<g clip-path="url(#c10)">
<path d="M64.10,1121.68L71.83,1121.66L79.57,1121.64L87.30,1121.60L95.03,1121.55L102.77,1121.47L110.50,1121.35L118.24,1121.17L125.97,1120.91L133.70,1120.54L141.44,1120.02L149.17,1119.29L156.90,1118.30L164.64,1116.96L172.37,1115.17L180.11,1112.82L187.84,1109.78L195.57,1105.90L203.31,1101.02L211.04,1094.97L218.77,1087.58L226.51,1078.70L234.24,1068.18L241.97,1055.94L249.71,1041.90L257.44,1026.09L265.18,1008.58L272.91,989.54L280.64,969.24L288.38,948.04L296.11,926.37L303.84,904.76L311.58,883.78L319.31,864.05L327.05,846.20L334.78,830.80L342.51,818.41L350.25,809.46L357.98,804.29L365.71,803.08L373.45,805.97L381.18,812.88L388.91,823.54L396.65,837.55L404.38,854.41L412.12,873.52L419.85,894.24L427.58,915.92L435.32,937.95L443.05,959.73L450.78,980.78L458.52,1000.68L466.25,1019.12L473.99,1035.87L481.72,1050.81L489.45,1063.91L497.19,1075.19L504.92,1084.76L512.65,1092.74L520.39,1099.29L528.12,1104.58L535.85,1108.79L543.59,1112.09L551.32,1114.64" fill="none" stroke="#00008b" stroke-width="3.1" stroke-linejoin="round"/>
<path d="M64.10,1121.62L71.83,1121.58L79.57,1121.51L87.30,1121.41L95.03,1121.27L102.77,1121.05L110.50,1120.75L118.24,1120.32L125.97,1119.72L133.70,1118.88L141.44,1117.75L149.17,1116.24L156.90,1114.24L164.64,1111.62L172.37,1108.26L180.11,1103.99L187.84,1097.66L195.57,1089.53L203.31,1079.58L211.04,1067.74L218.77,1054.02L226.51,1038.35L234.24,1020.85L241.97,1001.29L249.71,978.45L257.44,958.36L265.18,938.21L272.91,917.68L280.64,897.18L288.38,877.13L296.11,858.03L303.84,840.33L311.58,824.52L319.31,811.02L327.05,800.23L334.78,792.47L342.51,787.96L350.25,786.86L357.98,789.27L365.71,795.18L373.45,804.40L381.18,816.65L388.91,831.54L396.65,848.64L404.38,867.47L412.12,887.52L419.85,908.29L427.58,929.28L435.32,950.06L443.05,970.22L450.78,989.44L458.52,1007.44L466.25,1024.05L473.99,1039.13L481.72,1052.63L489.45,1064.53L497.19,1074.89L504.92,1083.78L512.65,1091.31L520.39,1097.60L528.12,1102.79L535.85,1107.02L543.59,1110.43L551.32,1113.14" fill="none" stroke="#00bfff" stroke-width="3.1" stroke-linejoin="round"/>
<path d="M64.10,1121.66L71.83,1121.63L79.57,1121.59L87.30,1121.53L95.03,1121.43L102.77,1121.29L110.50,1121.08L118.24,1120.77L125.97,1120.34L133.70,1119.72L141.44,1118.86L149.17,1117.67L156.90,1116.06L164.64,1113.92L172.37,1111.09L180.11,1107.42L187.84,1102.74L195.57,1096.39L203.31,1086.12L211.04,1073.32L218.77,1059.95L226.51,1044.76L234.24,1027.42L241.97,1008.04L249.71,985.48L257.44,962.83L265.18,940.53L272.91,917.34L280.64,893.70L288.38,870.10L296.11,847.08L303.84,825.23L311.58,805.13L319.31,787.35L327.05,772.42L334.78,760.81L342.51,752.88L350.25,748.88L357.98,748.94L365.71,753.06L373.45,761.10L381.18,772.79L388.91,787.77L396.65,805.58L404.38,825.70L412.12,847.54L419.85,870.53L427.58,894.10L435.32,917.69L443.05,940.83L450.78,963.09L458.52,984.11L466.25,1003.65L473.99,1021.51L481.72,1037.60L489.45,1051.87L497.19,1064.35L504.92,1075.11L512.65,1084.26L520.39,1091.94L528.12,1098.30L535.85,1103.51L543.59,1107.71L551.32,1111.05" fill="none" stroke="#008000" stroke-width="3.1" stroke-linejoin="round"/>
</g>
<text x="42.96" y="1172.10" font-size="34.3">0.0</text>
<text x="171.90" y="1172.10" font-size="34.3">0.5</text>
<text x="299.89" y="1172.10" font-size="34.3">1.0</text>
<text x="428.83" y="1172.10" font-size="34.3">1.5</text>
<text font-size="100" transform="matrix(0.3068,0,0,0.3055,366.64,693.44)" xml:space="preserve">5.2</text>
<text font-size="100" transform="matrix(0.3871,0,0,0.3440,412.56,697.10)" xml:space="preserve">&lt;</text>
<text class="i" font-size="100" transform="matrix(0.3644,0,0,0.3339,441.76,693.47)" xml:space="preserve">t</text>
<text font-size="100" transform="matrix(0.3849,0,0,0.3440,462.08,697.10)" xml:space="preserve">&lt;</text>
<text font-size="100" transform="matrix(0.3037,0,0,0.3090,491.55,693.44)" xml:space="preserve">5.5</text>
<text class="i" font-size="100" transform="matrix(0.4248,0,0,0.3340,228.61,1222.50)" xml:space="preserve">m</text>
<text font-size="100" transform="matrix(0.2864,0,0,0.2051,257.45,1227.54)" xml:space="preserve">sp</text>
<text font-size="100" transform="matrix(0.4793,0,0,0.5134,285.10,1229.99)" xml:space="preserve">/</text>
<text class="i" font-size="100" transform="matrix(0.3787,0,0,0.3664,300.47,1222.50)" xml:space="preserve">M</text>
<text font-size="100" transform="matrix(0.2514,0,0,0.2370,331.03,1227.56)" xml:space="preserve">200m</text>
<g clip-path="url(#c11)">
<path d="M602.70,1121.70L602.70,1121.70L619.03,1121.70L619.03,1121.70L635.35,1121.70L635.35,1121.70L651.68,1121.70L651.68,1121.70L668.01,1121.70L668.01,1121.70L684.33,1121.70L684.33,1121.70L700.66,1121.70L700.66,1121.70L716.99,1121.70L716.99,1121.70L733.31,1121.70L733.31,1121.70L749.64,1121.70L749.64,1121.70L765.97,1121.70L765.97,1121.70L782.29,1121.70L782.29,1121.70L798.62,1121.70L798.62,1121.70L814.95,1121.70L814.95,1121.70L831.27,1121.70L831.27,1121.70L847.60,1121.70L847.60,1121.70L863.93,1121.70L863.93,1121.70L880.25,1121.70L880.25,1121.70L896.58,1121.70L896.58,1121.70L912.91,1121.70L912.91,1121.70L929.23,1121.70L929.23,1121.70L945.56,1121.70L945.56,1121.70L961.89,1121.70L961.89,1121.70L978.21,1121.70L978.21,1121.70L994.54,1121.70L994.54,1121.70L1010.87,1121.70L1010.87,1121.70L1027.19,1121.70L1027.19,1121.70L1043.52,1121.70L1043.52,1121.70L1059.85,1121.70L1059.85,1121.70L1076.17,1121.70L1076.17,1121.70L1092.50,1121.70L1092.50,1121.70Z" fill="#87a67f"/>
<path d="M602.70,1121.70L602.70,1121.70L619.03,1121.70L619.03,1121.70L635.35,1121.70L635.35,1121.70L651.68,1121.70L651.68,1121.70L668.01,1121.70L668.01,1121.70L684.33,1121.70L684.33,1121.70L700.66,1121.70L700.66,1121.70L716.99,1121.70L716.99,1104.90L733.31,1104.90L733.31,1054.10L749.64,1054.10L749.64,1048.50L765.97,1048.50L765.97,1054.10L782.29,1054.10L782.29,1003.30L798.62,1003.30L798.62,986.40L814.95,986.40L814.95,827.40L831.27,827.40L831.27,707.30L847.60,707.30L847.60,724.50L863.93,724.50L863.93,809.80L880.25,809.80L880.25,804.60L896.58,804.60L896.58,918.10L912.91,918.10L912.91,980.50L929.23,980.50L929.23,1060.00L945.56,1060.00L945.56,1088.70L961.89,1088.70L961.89,1065.40L978.21,1065.40L978.21,1099.90L994.54,1099.90L994.54,1111.20L1010.87,1111.20L1010.87,1121.70L1027.19,1121.70L1027.19,1116.90L1043.52,1116.90L1043.52,1121.70L1059.85,1121.70L1059.85,1121.70L1076.17,1121.70L1076.17,1121.70L1092.50,1121.70L1092.50,1121.70Z" fill="#a1caf1"/>
<path d="M602.70,1121.70L602.70,1121.70L619.03,1121.70L619.03,1121.70L635.35,1121.70L635.35,1121.70L651.68,1121.70L651.68,1121.70L668.01,1121.70L668.01,1121.70L684.33,1121.70L684.33,1121.70L700.66,1121.70L700.66,1121.70L716.99,1121.70L716.99,1121.70L733.31,1121.70L733.31,1116.20L749.64,1116.20L749.64,1116.20L765.97,1116.20L765.97,1094.30L782.29,1094.30L782.29,1077.10L798.62,1077.10L798.62,1060.00L814.95,1060.00L814.95,992.00L831.27,992.00L831.27,821.50L847.60,821.50L847.60,821.50L863.93,821.50L863.93,855.40L880.25,855.40L880.25,912.50L896.58,912.50L896.58,1003.30L912.91,1003.30L912.91,1043.10L929.23,1043.10L929.23,1088.70L945.56,1088.70L945.56,1094.20L961.89,1094.20L961.89,1094.30L978.21,1094.30L978.21,1111.20L994.54,1111.20L994.54,1116.90L1010.87,1116.90L1010.87,1111.20L1027.19,1111.20L1027.19,1121.70L1043.52,1121.70L1043.52,1121.70L1059.85,1121.70L1059.85,1105.60L1076.17,1105.60L1076.17,1116.90L1092.50,1116.90L1092.50,1121.70Z" fill="#786da4"/>
</g>
<path d="M731.59,1121.70v-9.0M731.59,645.10v9.0" stroke="#000" stroke-width="1.9"/>
<path d="M860.49,1121.70v-9.0M860.49,645.10v9.0" stroke="#000" stroke-width="1.9"/>
<path d="M989.38,1121.70v-9.0M989.38,645.10v9.0" stroke="#000" stroke-width="1.9"/>
<rect x="602.70" y="645.10" width="489.80" height="476.60" fill="none" stroke="#000" stroke-width="2.0"/>
<g clip-path="url(#c11)">
<path d="M602.70,1121.70L610.43,1121.70L618.17,1121.70L625.90,1121.70L633.63,1121.70L641.37,1121.70L649.10,1121.70L656.84,1121.70L664.57,1121.70L672.30,1121.70L680.04,1121.70L687.77,1121.70L695.50,1121.70L703.24,1121.69L710.97,1121.68L718.71,1121.66L726.44,1121.59L734.17,1121.43L741.91,1121.09L749.64,1120.37L757.37,1118.94L765.11,1116.28L772.84,1111.59L780.57,1103.81L788.31,1091.65L796.04,1073.80L803.78,1049.27L811.51,1017.76L819.24,980.17L826.98,938.82L834.71,897.48L842.44,860.83L850.18,833.69L857.91,819.99L865.65,821.82L873.38,839.08L881.11,869.16L888.85,907.75L896.58,949.84L904.31,990.81L912.05,1027.18L919.78,1056.98L927.51,1079.69L935.25,1095.84L942.98,1106.61L950.72,1113.35L958.45,1117.32L966.18,1119.52L973.92,1120.67L981.65,1121.24L989.38,1121.51L997.12,1121.62L1004.85,1121.67L1012.59,1121.69L1020.32,1121.70L1028.05,1121.70L1035.79,1121.70L1043.52,1121.70L1051.25,1121.70L1058.99,1121.70L1066.72,1121.70L1074.45,1121.70L1082.19,1121.70L1089.92,1121.70" fill="none" stroke="#00008b" stroke-width="3.1" stroke-linejoin="round"/>
<path d="M602.70,1121.70L610.43,1121.70L618.17,1121.70L625.90,1121.70L633.63,1121.70L641.37,1121.70L649.10,1121.69L656.84,1121.68L664.57,1121.66L672.30,1121.62L680.04,1121.55L687.77,1121.40L695.50,1121.13L703.24,1120.66L710.97,1119.84L718.71,1118.48L726.44,1116.28L734.17,1112.86L741.91,1107.69L749.64,1100.15L757.37,1089.54L765.11,1075.12L772.84,1056.21L780.57,1032.34L788.31,1003.37L796.04,969.61L803.78,931.99L811.51,892.03L819.24,851.84L826.98,813.96L834.71,781.11L842.44,755.84L850.18,740.28L857.91,735.77L865.65,742.74L873.38,760.62L881.11,787.84L888.85,822.15L896.58,860.90L904.31,901.37L912.05,941.07L919.78,978.00L927.51,1010.77L935.25,1038.60L942.98,1061.29L950.72,1079.09L958.45,1092.54L966.18,1102.33L973.92,1109.21L981.65,1113.89L989.38,1116.96L997.12,1118.91L1004.85,1120.10L1012.59,1120.82L1020.32,1121.22L1028.05,1121.45L1035.79,1121.57L1043.52,1121.64L1051.25,1121.67L1058.99,1121.69L1066.72,1121.69L1074.45,1121.70L1082.19,1121.70L1089.92,1121.70" fill="none" stroke="#008000" stroke-width="3.1" stroke-linejoin="round"/>
</g>
<text x="581.56" y="1172.10" font-size="34.3">0.0</text>
<text x="710.50" y="1172.10" font-size="34.3">0.5</text>
<text x="838.49" y="1172.10" font-size="34.3">1.0</text>
<text x="967.43" y="1172.10" font-size="34.3">1.5</text>
<text font-size="100" transform="matrix(0.3048,0,0,0.3055,905.02,693.44)" xml:space="preserve">7.9</text>
<text font-size="100" transform="matrix(0.3871,0,0,0.3440,951.16,697.10)" xml:space="preserve">&lt;</text>
<text class="i" font-size="100" transform="matrix(0.3644,0,0,0.3339,980.36,693.47)" xml:space="preserve">t</text>
<text font-size="100" transform="matrix(0.3849,0,0,0.3440,1000.68,697.10)" xml:space="preserve">&lt;</text>
<text font-size="100" transform="matrix(0.2923,0,0,0.3044,1030.80,693.44)" xml:space="preserve">8.4</text>
<text class="i" font-size="100" transform="matrix(0.4248,0,0,0.3340,767.21,1222.50)" xml:space="preserve">m</text>
<text font-size="100" transform="matrix(0.2864,0,0,0.2051,796.05,1227.54)" xml:space="preserve">sp</text>
<text font-size="100" transform="matrix(0.4793,0,0,0.5134,823.70,1229.99)" xml:space="preserve">/</text>
<text class="i" font-size="100" transform="matrix(0.3787,0,0,0.3664,839.07,1222.50)" xml:space="preserve">M</text>
<text font-size="100" transform="matrix(0.2514,0,0,0.2370,869.63,1227.56)" xml:space="preserve">200m</text>
<g clip-path="url(#c12)">
<path d="M1141.30,1121.70L1141.30,1121.70L1157.63,1121.70L1157.63,1121.70L1173.95,1121.70L1173.95,1117.50L1190.28,1117.50L1190.28,1094.30L1206.61,1094.30L1206.61,1079.60L1222.93,1079.60L1222.93,1062.20L1239.26,1062.20L1239.26,1031.50L1255.59,1031.50L1255.59,984.40L1271.91,984.40L1271.91,740.30L1288.24,740.30L1288.24,707.30L1304.57,707.30L1304.57,804.80L1320.89,804.80L1320.89,857.70L1337.22,857.70L1337.22,904.20L1353.55,904.20L1353.55,971.30L1369.87,971.30L1369.87,988.20L1386.20,988.20L1386.20,1014.20L1402.53,1014.20L1402.53,1006.90L1418.85,1006.90L1418.85,984.80L1435.18,984.80L1435.18,1048.60L1451.51,1048.60L1451.51,1076.40L1467.83,1076.40L1467.83,1096.00L1484.16,1096.00L1484.16,1109.70L1500.49,1109.70L1500.49,1115.70L1516.81,1115.70L1516.81,1121.70L1533.14,1121.70L1533.14,1121.70L1549.47,1121.70L1549.47,1121.70L1565.79,1121.70L1565.79,1121.70L1582.12,1121.70L1582.12,1121.70L1598.45,1121.70L1598.45,1121.70L1614.77,1121.70L1614.77,1121.70L1631.10,1121.70L1631.10,1121.70Z" fill="#87a67f"/>
<path d="M1141.30,1121.70L1141.30,1121.70L1157.63,1121.70L1157.63,1121.70L1173.95,1121.70L1173.95,1121.70L1190.28,1121.70L1190.28,1121.70L1206.61,1121.70L1206.61,1120.20L1222.93,1120.20L1222.93,1120.20L1239.26,1120.20L1239.26,1119.70L1255.59,1119.70L1255.59,1116.90L1271.91,1116.90L1271.91,1107.50L1288.24,1107.50L1288.24,1107.80L1304.57,1107.80L1304.57,1101.60L1320.89,1101.60L1320.89,1093.10L1337.22,1093.10L1337.22,1086.70L1353.55,1086.70L1353.55,1076.80L1369.87,1076.80L1369.87,1041.80L1386.20,1041.80L1386.20,1061.70L1402.53,1061.70L1402.53,1066.10L1418.85,1066.10L1418.85,1061.50L1435.18,1061.50L1435.18,1065.50L1451.51,1065.50L1451.51,1079.60L1467.83,1079.60L1467.83,1097.10L1484.16,1097.10L1484.16,1106.10L1500.49,1106.10L1500.49,1113.50L1516.81,1113.50L1516.81,1117.70L1533.14,1117.70L1533.14,1121.70L1549.47,1121.70L1549.47,1121.70L1565.79,1121.70L1565.79,1121.70L1582.12,1121.70L1582.12,1121.70L1598.45,1121.70L1598.45,1121.70L1614.77,1121.70L1614.77,1121.70L1631.10,1121.70L1631.10,1121.70Z" fill="#a1caf1"/>
<path d="M1141.30,1121.70L1141.30,1121.70L1157.63,1121.70L1157.63,1121.70L1173.95,1121.70L1173.95,1121.70L1190.28,1121.70L1190.28,1121.70L1206.61,1121.70L1206.61,1121.70L1222.93,1121.70L1222.93,1121.70L1239.26,1121.70L1239.26,1120.70L1255.59,1120.70L1255.59,1117.70L1271.91,1117.70L1271.91,1108.90L1288.24,1108.90L1288.24,1109.50L1304.57,1109.50L1304.57,1105.70L1320.89,1105.70L1320.89,1096.00L1337.22,1096.00L1337.22,1089.20L1353.55,1089.20L1353.55,1085.20L1369.87,1085.20L1369.87,1058.20L1386.20,1058.20L1386.20,1063.20L1402.53,1063.20L1402.53,1070.00L1418.85,1070.00L1418.85,1068.30L1435.18,1068.30L1435.18,1074.50L1451.51,1074.50L1451.51,1085.70L1467.83,1085.70L1467.83,1101.60L1484.16,1101.60L1484.16,1111.80L1500.49,1111.80L1500.49,1115.20L1516.81,1115.20L1516.81,1118.70L1533.14,1118.70L1533.14,1121.70L1549.47,1121.70L1549.47,1121.70L1565.79,1121.70L1565.79,1121.70L1582.12,1121.70L1582.12,1121.70L1598.45,1121.70L1598.45,1121.70L1614.77,1121.70L1614.77,1121.70L1631.10,1121.70L1631.10,1121.70Z" fill="#786da4"/>
</g>
<path d="M1270.19,1121.70v-9.0M1270.19,645.10v9.0" stroke="#000" stroke-width="1.9"/>
<path d="M1399.09,1121.70v-9.0M1399.09,645.10v9.0" stroke="#000" stroke-width="1.9"/>
<path d="M1527.98,1121.70v-9.0M1527.98,645.10v9.0" stroke="#000" stroke-width="1.9"/>
<rect x="1141.30" y="645.10" width="489.80" height="476.60" fill="none" stroke="#000" stroke-width="2.0"/>
<g clip-path="url(#c12)">
<path d="M1141.30,1121.70L1149.03,1121.70L1156.77,1121.69L1164.50,1121.69L1172.23,1121.68L1179.97,1121.66L1187.70,1121.63L1195.44,1121.59L1203.17,1121.53L1210.90,1121.43L1218.64,1121.29L1226.37,1121.08L1234.10,1120.78L1241.84,1120.36L1249.57,1119.78L1257.31,1119.01L1265.04,1117.99L1272.77,1116.67L1280.51,1115.01L1288.24,1112.95L1295.97,1110.46L1303.71,1107.52L1311.44,1104.13L1319.17,1100.31L1326.91,1096.12L1334.64,1091.65L1342.38,1087.01L1350.11,1082.37L1357.84,1077.89L1365.58,1073.76L1373.31,1070.17L1381.04,1067.28L1388.78,1065.25L1396.51,1064.16L1404.25,1064.09L1411.98,1065.00L1419.71,1066.83L1427.45,1069.51L1435.18,1072.88L1442.91,1076.81L1450.65,1081.12L1458.38,1085.64L1466.11,1090.19L1473.85,1094.63L1481.58,1098.84L1489.32,1102.72L1497.05,1106.21L1504.78,1109.27L1512.52,1111.89L1520.25,1114.09L1527.98,1115.90L1535.72,1117.35L1543.45,1118.49L1551.19,1119.38L1558.92,1120.05L1566.65,1120.54L1574.39,1120.90L1582.12,1121.16L1589.85,1121.34L1597.59,1121.46L1605.32,1121.55L1613.05,1121.60L1620.79,1121.64L1628.52,1121.66" fill="none" stroke="#00008b" stroke-width="3.1" stroke-linejoin="round"/>
<path d="M1141.30,1121.70L1149.03,1121.69L1156.77,1121.69L1164.50,1121.68L1172.23,1121.67L1179.97,1121.65L1187.70,1121.62L1195.44,1121.57L1203.17,1121.49L1210.90,1121.38L1218.64,1121.21L1226.37,1120.96L1234.10,1120.61L1241.84,1120.11L1249.57,1119.44L1257.31,1118.53L1265.04,1117.35L1272.77,1115.81L1280.51,1113.88L1288.24,1111.50L1295.97,1108.63L1303.71,1105.23L1311.44,1101.32L1319.17,1096.91L1326.91,1092.09L1334.64,1086.94L1342.38,1081.60L1350.11,1076.26L1357.84,1071.10L1365.58,1066.34L1373.31,1062.20L1381.04,1058.86L1388.78,1056.49L1396.51,1055.21L1404.25,1055.09L1411.98,1056.10L1419.71,1058.19L1427.45,1061.25L1435.18,1065.13L1442.91,1069.65L1450.65,1074.62L1458.38,1079.84L1466.11,1085.10L1473.85,1090.24L1481.58,1095.12L1489.32,1099.62L1497.05,1103.67L1504.78,1107.22L1512.52,1110.27L1520.25,1112.83L1527.98,1114.93L1535.72,1116.62L1543.45,1117.96L1551.19,1118.99L1558.92,1119.77L1566.65,1120.34L1574.39,1120.77L1582.12,1121.07L1589.85,1121.28L1597.59,1121.42L1605.32,1121.52L1613.05,1121.59L1620.79,1121.63L1628.52,1121.66" fill="none" stroke="#00bfff" stroke-width="3.1" stroke-linejoin="round"/>
<path d="M1141.30,1120.80L1149.03,1120.17L1156.77,1119.17L1164.50,1117.62L1172.23,1115.27L1179.97,1111.83L1187.70,1106.91L1195.44,1100.07L1203.17,1090.84L1210.90,1078.75L1218.64,1063.39L1226.37,1044.45L1234.10,1021.85L1241.84,995.79L1249.57,966.80L1257.31,935.77L1265.04,903.97L1272.77,872.94L1280.51,844.42L1288.24,820.16L1295.97,801.77L1303.71,790.53L1311.44,787.24L1319.17,792.26L1326.91,805.28L1334.64,825.34L1342.38,851.04L1350.11,880.66L1357.84,912.38L1365.58,944.44L1373.31,975.33L1381.04,1003.85L1388.78,1029.17L1396.51,1050.86L1404.25,1068.81L1411.98,1083.20L1419.71,1094.37L1427.45,1102.78L1435.18,1108.93L1442.91,1113.29L1450.65,1116.30L1458.38,1118.32L1466.11,1119.64L1473.85,1120.47L1481.58,1120.99L1489.32,1121.30L1497.05,1121.48L1504.78,1121.58L1512.52,1121.64L1520.25,1121.67L1527.98,1121.68L1535.72,1121.69L1543.45,1121.70L1551.19,1121.70L1558.92,1121.70L1566.65,1121.70L1574.39,1121.70L1582.12,1121.70L1589.85,1121.70L1597.59,1121.70L1605.32,1121.70L1613.05,1121.70L1620.79,1121.70L1628.52,1121.70" fill="none" stroke="#008000" stroke-width="3.1" stroke-linejoin="round"/>
</g>
<text x="1120.16" y="1172.10" font-size="34.3">0.0</text>
<text x="1249.10" y="1172.10" font-size="34.3">0.5</text>
<text x="1377.09" y="1172.10" font-size="34.3">1.0</text>
<text x="1506.03" y="1172.10" font-size="34.3">1.5</text>
<text font-size="100" transform="matrix(0.2971,0,0,0.3044,1414.90,693.44)" xml:space="preserve">10.5</text>
<text font-size="100" transform="matrix(0.3828,0,0,0.3440,1475.29,697.10)" xml:space="preserve">&lt;</text>
<text class="i" font-size="100" transform="matrix(0.3446,0,0,0.3339,1505.25,693.47)" xml:space="preserve">t</text>
<text font-size="100" transform="matrix(0.3806,0,0,0.3440,1525.20,697.10)" xml:space="preserve">&lt;</text>
<text font-size="100" transform="matrix(0.2991,0,0,0.3055,1555.18,693.44)" xml:space="preserve">11.3</text>
<text class="i" font-size="100" transform="matrix(0.4248,0,0,0.3340,1305.81,1222.50)" xml:space="preserve">m</text>
<text font-size="100" transform="matrix(0.2864,0,0,0.2051,1334.65,1227.54)" xml:space="preserve">sp</text>
<text font-size="100" transform="matrix(0.4793,0,0,0.5134,1362.30,1229.99)" xml:space="preserve">/</text>
<text class="i" font-size="100" transform="matrix(0.3787,0,0,0.3664,1377.67,1222.50)" xml:space="preserve">M</text>
<text font-size="100" transform="matrix(0.2514,0,0,0.2370,1408.23,1227.56)" xml:space="preserve">200m</text>
<g clip-path="url(#c13)">
<path d="M1679.90,1121.70L1679.90,1121.70L1696.23,1121.70L1696.23,1121.70L1712.55,1121.70L1712.55,1121.70L1728.88,1121.70L1728.88,1082.30L1745.21,1082.30L1745.21,1050.30L1761.53,1050.30L1761.53,981.90L1777.86,981.90L1777.86,979.60L1794.19,979.60L1794.19,945.30L1810.51,945.30L1810.51,909.10L1826.84,909.10L1826.84,811.40L1843.17,811.40L1843.17,815.40L1859.49,815.40L1859.49,782.00L1875.82,782.00L1875.82,745.40L1892.15,745.40L1892.15,707.30L1908.47,707.30L1908.47,792.20L1924.80,792.20L1924.80,928.40L1941.13,928.40L1941.13,1041.20L1957.45,1041.20L1957.45,1064.50L1973.78,1064.50L1973.78,1081.20L1990.11,1081.20L1990.11,1092.00L2006.43,1092.00L2006.43,1121.70L2022.76,1121.70L2022.76,1121.70L2039.09,1121.70L2039.09,1121.70L2055.41,1121.70L2055.41,1121.70L2071.74,1121.70L2071.74,1121.70L2088.07,1121.70L2088.07,1121.70L2104.39,1121.70L2104.39,1121.70L2120.72,1121.70L2120.72,1121.70L2137.05,1121.70L2137.05,1121.70L2153.37,1121.70L2153.37,1121.70L2169.70,1121.70L2169.70,1121.70Z" fill="#87a67f"/>
<path d="M1679.90,1121.70L1679.90,1121.70L1696.23,1121.70L1696.23,1121.70L1712.55,1121.70L1712.55,1121.70L1728.88,1121.70L1728.88,1098.40L1745.21,1098.40L1745.21,1094.30L1761.53,1094.30L1761.53,1087.10L1777.86,1087.10L1777.86,1087.10L1794.19,1087.10L1794.19,1047.30L1810.51,1047.30L1810.51,1048.00L1826.84,1048.00L1826.84,936.30L1843.17,936.30L1843.17,939.00L1859.49,939.00L1859.49,917.10L1875.82,917.10L1875.82,879.80L1892.15,879.80L1892.15,789.00L1908.47,789.00L1908.47,851.50L1924.80,851.50L1924.80,957.30L1941.13,957.30L1941.13,1048.00L1957.45,1048.00L1957.45,1073.50L1973.78,1073.50L1973.78,1085.30L1990.11,1085.30L1990.11,1094.30L2006.43,1094.30L2006.43,1100.40L2022.76,1100.40L2022.76,1121.70L2039.09,1121.70L2039.09,1121.70L2055.41,1121.70L2055.41,1121.70L2071.74,1121.70L2071.74,1121.70L2088.07,1121.70L2088.07,1121.70L2104.39,1121.70L2104.39,1121.70L2120.72,1121.70L2120.72,1121.70L2137.05,1121.70L2137.05,1121.70L2153.37,1121.70L2153.37,1121.70L2169.70,1121.70L2169.70,1121.70Z" fill="#a1caf1"/>
<path d="M1679.90,1121.70L1679.90,1121.70L1696.23,1121.70L1696.23,1121.70L1712.55,1121.70L1712.55,1121.70L1728.88,1121.70L1728.88,1119.10L1745.21,1119.10L1745.21,1114.60L1761.53,1114.60L1761.53,1113.90L1777.86,1113.90L1777.86,1111.90L1794.19,1111.90L1794.19,1092.70L1810.51,1092.70L1810.51,1085.90L1826.84,1085.90L1826.84,1062.70L1843.17,1062.70L1843.17,1019.40L1859.49,1019.40L1859.49,976.90L1875.82,976.90L1875.82,931.80L1892.15,931.80L1892.15,859.00L1908.47,859.00L1908.47,893.90L1924.80,893.90L1924.80,988.70L1941.13,988.70L1941.13,1054.80L1957.45,1054.80L1957.45,1082.60L1973.78,1082.60L1973.78,1095.00L1990.11,1095.00L1990.11,1104.00L2006.43,1104.00L2006.43,1104.00L2022.76,1104.00L2022.76,1121.70L2039.09,1121.70L2039.09,1121.70L2055.41,1121.70L2055.41,1121.70L2071.74,1121.70L2071.74,1121.70L2088.07,1121.70L2088.07,1121.70L2104.39,1121.70L2104.39,1121.70L2120.72,1121.70L2120.72,1121.70L2137.05,1121.70L2137.05,1121.70L2153.37,1121.70L2153.37,1121.70L2169.70,1121.70L2169.70,1121.70Z" fill="#786da4"/>
</g>
<path d="M1808.79,1121.70v-9.0M1808.79,645.10v9.0" stroke="#000" stroke-width="1.9"/>
<path d="M1937.69,1121.70v-9.0M1937.69,645.10v9.0" stroke="#000" stroke-width="1.9"/>
<path d="M2066.58,1121.70v-9.0M2066.58,645.10v9.0" stroke="#000" stroke-width="1.9"/>
<rect x="1679.90" y="645.10" width="489.80" height="476.60" fill="none" stroke="#000" stroke-width="2.0"/>
<g clip-path="url(#c13)">
<path d="M1679.90,1121.70L1687.63,1121.70L1695.37,1121.70L1703.10,1121.70L1710.83,1121.70L1718.57,1121.70L1726.30,1121.70L1734.04,1121.69L1741.77,1121.67L1749.50,1121.64L1757.24,1121.55L1764.97,1121.38L1772.70,1121.03L1780.44,1120.35L1788.17,1119.11L1795.91,1116.94L1803.64,1113.34L1811.37,1107.65L1819.11,1099.09L1826.84,1086.88L1834.57,1070.38L1842.31,1049.32L1850.04,1024.01L1857.77,995.52L1865.51,965.73L1873.24,937.19L1880.98,912.81L1888.71,895.38L1896.44,887.04L1904.18,888.85L1911.91,900.59L1919.64,920.76L1927.38,946.95L1935.11,976.25L1942.85,1005.85L1950.58,1033.39L1958.31,1057.28L1966.05,1076.73L1973.78,1091.65L1981.51,1102.49L1989.25,1109.95L1996.98,1114.82L2004.71,1117.84L2012.45,1119.63L2020.18,1120.64L2027.92,1121.18L2035.65,1121.45L2043.38,1121.59L2051.12,1121.65L2058.85,1121.68L2066.58,1121.69L2074.32,1121.70L2082.05,1121.70L2089.79,1121.70L2097.52,1121.70L2105.25,1121.70L2112.99,1121.70L2120.72,1121.70L2128.45,1121.70L2136.19,1121.70L2143.92,1121.70L2151.65,1121.70L2159.39,1121.70L2167.12,1121.70" fill="none" stroke="#00008b" stroke-width="3.1" stroke-linejoin="round"/>
<path d="M1679.90,1121.69L1687.63,1121.69L1695.37,1121.67L1703.10,1121.64L1710.83,1121.59L1718.57,1121.48L1726.30,1121.29L1734.04,1120.94L1741.77,1120.36L1749.50,1119.38L1757.24,1117.81L1764.97,1115.37L1772.70,1111.70L1780.44,1106.37L1788.17,1098.86L1795.91,1088.67L1803.64,1075.33L1811.37,1058.48L1819.11,1038.01L1826.84,1014.14L1834.57,987.48L1842.31,959.07L1850.04,930.38L1857.77,903.17L1865.51,879.34L1873.24,860.72L1880.98,848.84L1888.71,844.70L1896.44,848.40L1904.18,859.37L1911.91,876.71L1919.64,899.11L1927.38,924.94L1935.11,952.48L1942.85,980.12L1950.58,1006.45L1958.31,1030.42L1966.05,1051.37L1973.78,1068.98L1981.51,1083.25L1989.25,1094.42L1996.98,1102.87L2004.71,1109.05L2012.45,1113.43L2020.18,1116.45L2027.92,1118.45L2035.65,1119.74L2043.38,1120.56L2051.12,1121.05L2058.85,1121.34L2066.58,1121.51L2074.32,1121.60L2082.05,1121.65L2089.79,1121.67L2097.52,1121.69L2105.25,1121.69L2112.99,1121.70L2120.72,1121.70L2128.45,1121.70L2136.19,1121.70L2143.92,1121.70L2151.65,1121.70L2159.39,1121.70L2167.12,1121.70" fill="none" stroke="#00bfff" stroke-width="3.1" stroke-linejoin="round"/>
<path d="M1679.90,1120.57L1687.63,1119.91L1695.37,1118.91L1703.10,1117.45L1710.83,1115.34L1718.57,1112.37L1726.30,1108.26L1734.04,1102.71L1741.77,1095.37L1749.50,1085.88L1757.24,1073.88L1764.97,1059.05L1772.70,1041.17L1780.44,1020.12L1788.17,995.97L1795.91,969.01L1803.64,939.74L1811.37,908.93L1819.11,877.57L1826.84,846.85L1834.57,818.06L1842.31,792.55L1850.04,771.59L1857.77,756.28L1865.51,747.45L1873.24,745.60L1880.98,750.79L1888.71,762.71L1896.44,780.70L1904.18,803.81L1911.91,830.86L1919.64,860.56L1927.38,891.59L1935.11,922.70L1942.85,952.80L1950.58,981.01L1958.31,1006.69L1966.05,1029.43L1973.78,1049.05L1981.51,1065.56L1989.25,1079.13L1996.98,1090.02L2004.71,1098.56L2012.45,1105.11L2020.18,1110.03L2027.92,1113.64L2035.65,1116.24L2043.38,1118.07L2051.12,1119.33L2058.85,1120.18L2066.58,1120.75L2074.32,1121.11L2082.05,1121.34L2089.79,1121.49L2097.52,1121.58L2105.25,1121.63L2112.99,1121.66L2120.72,1121.68L2128.45,1121.69L2136.19,1121.69L2143.92,1121.70L2151.65,1121.70L2159.39,1121.70L2167.12,1121.70" fill="none" stroke="#008000" stroke-width="3.1" stroke-linejoin="round"/>
</g>
<text x="1658.76" y="1172.10" font-size="34.3">0.0</text>
<text x="1787.70" y="1172.10" font-size="34.3">0.5</text>
<text x="1915.69" y="1172.10" font-size="34.3">1.0</text>
<text x="2044.63" y="1172.10" font-size="34.3">1.5</text>
<text font-size="100" transform="matrix(0.3008,0,0,0.3055,1953.47,693.44)" xml:space="preserve">13.1</text>
<text font-size="100" transform="matrix(0.3828,0,0,0.3440,2013.89,697.10)" xml:space="preserve">&lt;</text>
<text class="i" font-size="100" transform="matrix(0.3446,0,0,0.3339,2043.85,693.47)" xml:space="preserve">t</text>
<text font-size="100" transform="matrix(0.3806,0,0,0.3440,2063.80,697.10)" xml:space="preserve">&lt;</text>
<text font-size="100" transform="matrix(0.2958,0,0,0.3067,2093.81,693.44)" xml:space="preserve">14.1</text>
<text class="i" font-size="100" transform="matrix(0.4248,0,0,0.3340,1844.41,1222.50)" xml:space="preserve">m</text>
<text font-size="100" transform="matrix(0.2864,0,0,0.2051,1873.25,1227.54)" xml:space="preserve">sp</text>
<text font-size="100" transform="matrix(0.4793,0,0,0.5134,1900.90,1229.99)" xml:space="preserve">/</text>
<text class="i" font-size="100" transform="matrix(0.3787,0,0,0.3664,1916.27,1222.50)" xml:space="preserve">M</text>
<text font-size="100" transform="matrix(0.2514,0,0,0.2370,1946.83,1227.56)" xml:space="preserve">200m</text>
<g transform="translate(26,379.1) rotate(-90)">
<text class="i" font-size="100" transform="matrix(0.3889,0,0,0.3664,0.29,0.00)" xml:space="preserve">N</text>
<text font-size="100" transform="matrix(0.3068,0,0,0.3857,41.10,0.55)" xml:space="preserve">(</text>
<text font-size="100" transform="matrix(0.3829,0,0,0.3418,51.76,-0.55)" xml:space="preserve">arbitrary units</text>
<text font-size="100" transform="matrix(0.3068,0,0,0.3857,268.10,0.55)" xml:space="preserve">)</text>
</g>
<g transform="translate(26,1023.6) rotate(-90)">
<text class="i" font-size="100" transform="matrix(0.3889,0,0,0.3664,0.29,0.00)" xml:space="preserve">N</text>
<text font-size="100" transform="matrix(0.3068,0,0,0.3857,41.10,0.55)" xml:space="preserve">(</text>
<text font-size="100" transform="matrix(0.3829,0,0,0.3418,51.76,-0.55)" xml:space="preserve">arbitrary units</text>
<text font-size="100" transform="matrix(0.3068,0,0,0.3857,268.10,0.55)" xml:space="preserve">)</text>
</g>
<path d="M1878.0,74.3H1911.0" stroke="#00008b" stroke-width="3.3"/>
<text font-size="100" transform="matrix(0.3570,0,0,0.2800,1933.02,87.31)" xml:space="preserve">−</text>
<text font-size="100" transform="matrix(0.3906,0,0,0.3500,1953.34,89.20)" xml:space="preserve">∞</text>
<text font-size="100" transform="matrix(0.3484,0,0,0.3212,1981.86,88.89)" xml:space="preserve">&lt;</text>
<text font-size="100" transform="matrix(0.2854,0,0,0.3004,2008.87,85.40)" xml:space="preserve">SMR</text>
<text font-size="100" transform="matrix(0.3570,0,0,0.3212,2077.42,88.89)" xml:space="preserve">&lt;</text>
<text font-size="100" transform="matrix(0.3570,0,0,0.2800,2106.12,87.31)" xml:space="preserve">−</text>
<text font-size="100" transform="matrix(0.2708,0,0,0.2827,2126.54,85.32)" xml:space="preserve">5</text>
<path d="M1878.0,103.9H1911.0" stroke="#00bfff" stroke-width="3.3"/>
<text font-size="100" transform="matrix(0.3570,0,0,0.2800,1933.02,116.91)" xml:space="preserve">−</text>
<text font-size="100" transform="matrix(0.2683,0,0,0.2827,1953.56,114.92)" xml:space="preserve">5</text>
<text font-size="100" transform="matrix(0.3505,0,0,0.3212,1968.05,118.49)" xml:space="preserve">&lt;</text>
<text font-size="100" transform="matrix(0.2869,0,0,0.3004,1995.06,115.00)" xml:space="preserve">SMR</text>
<text font-size="100" transform="matrix(0.3548,0,0,0.3212,2063.93,118.49)" xml:space="preserve">&lt;</text>
<text font-size="100" transform="matrix(0.3570,0,0,0.2800,2092.32,116.91)" xml:space="preserve">−</text>
<text font-size="100" transform="matrix(0.2553,0,0,0.2788,2113.27,114.90)" xml:space="preserve">1</text>
<path d="M1878.0,133.4H1911.0" stroke="#008000" stroke-width="3.3"/>
<text font-size="100" transform="matrix(0.3570,0,0,0.2800,1933.02,146.31)" xml:space="preserve">−</text>
<text font-size="100" transform="matrix(0.2695,0,0,0.2788,1953.74,144.30)" xml:space="preserve">1</text>
<text font-size="100" transform="matrix(0.3505,0,0,0.3212,1975.85,147.89)" xml:space="preserve">&lt;</text>
<text font-size="100" transform="matrix(0.2859,0,0,0.3004,2003.07,144.40)" xml:space="preserve">SMR</text>
<text font-size="100" transform="matrix(0.3527,0,0,0.3212,2071.64,147.89)" xml:space="preserve">&lt;</text>
<text font-size="100" transform="matrix(0.3859,0,0,0.3500,2099.45,148.20)" xml:space="preserve">∞</text>
</svg></body></html>
